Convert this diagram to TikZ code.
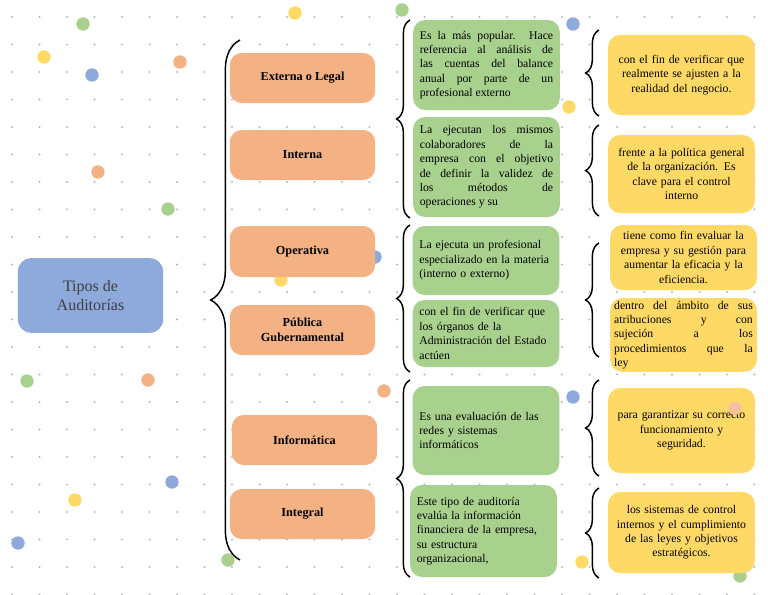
\documentclass[tikz,border=0pt]{standalone}
\usepackage{fontspec}
\setmainfont{Liberation Serif}
\usetikzlibrary{decorations.pathreplacing}
\definecolor{cblue}{HTML}{8EA9DB}
\definecolor{corange}{HTML}{F4B183}
\definecolor{cgreen}{HTML}{A9D18E}
\definecolor{cyellow}{HTML}{FFD966}
\definecolor{cdot}{HTML}{B8B8B8}
\hyphenpenalty=10000
\exhyphenpenalty=10000
\tikzset{
 box/.style={rounded corners=9pt,inner sep=2pt,font=\fontsize{8.8}{10.8}\selectfont},
 tipo/.style={box,fill=cblue,font=\fontsize{12}{14}\selectfont,text=black!75,align=center},
 orng/.style={box,fill=corange,font=\fontsize{9.2}{11.2}\selectfont\bfseries,align=center},
 grn/.style={box,fill=cgreen},
 ylw/.style={box,fill=cyellow},
 brc/.style={decorate,decoration={brace,amplitude=#1},line width=1.1pt}
}
\begin{document}
\begin{tikzpicture}[x=0.75pt,y=-0.75pt]
\useasboundingbox (0,0) rectangle (768,594);
\fill[white] (0,0) rectangle (768,594);
\foreach \i in {0,...,27}{\foreach \j in {0,...,21}{\fill[cdot] (12+27.5*\i,17+27.5*\j) circle (0.9pt);}}
\foreach \p/\c in {{(83,24)}/cgreen,{(295,13)}/cyellow,{(402,10)}/cgreen,{(573,24)}/cblue,{(44,57)}/cyellow,{(180,62)}/corange,{(92,75)}/cblue,{(569,107)}/cyellow,{(98,172)}/corange,{(168,209)}/cgreen,{(375,257)}/cblue,{(281,280)}/cyellow,{(27,381)}/cgreen,{(148,380)}/corange,{(384,391)}/corange,{(573,397)}/cblue,{(75,500)}/cyellow,{(172,482)}/cblue,{(18,543)}/cblue,{(228,560)}/cgreen,{(582,562)}/cyellow,{(740,576)}/cgreen}
 {\fill[\c] \p circle (5pt);}
\node[tipo,minimum width=109pt,minimum height=56pt,rounded corners=10pt] (t) at (90.5,295.5) {Tipos de\\Auditorías};
\foreach \n/\x/\y/\h/\t in {e/302.5/78/50/Externa o Legal,i/302.5/155/50/Interna,o/302.5/251.5/51/Operativa,p/302.5/330/50/{Pública\\Gubernamental},f/304.5/440/50/Informática,g/302.5/514/50/Integral}
 {\node[orng,minimum width=109pt,minimum height=\h*0.75pt] (\n) at (\x,\y) {\t};}
\foreach \n/\x/\y/\h/\al/\t in {
 g1/486.5/65/90/justify/{Es la más popular. Hace\linebreak referencia al análisis de\linebreak las cuentas del balance\linebreak anual por parte de un\linebreak profesional externo},
 g2/486.5/167/100/justify/{\parfillskip=0pt La ejecutan los mismos\linebreak colaboradores de la\linebreak empresa con el objetivo\linebreak de definir la validez de\linebreak los métodos de\linebreak operaciones y su},
 g3/486/260.5/69/left/{La ejecuta un profesional\\especializado en la materia\\(interno o externo)},
 g4/486/333.5/67/left/{con el fin de verificar que\\los órganos de la\\Administración del Estado\\actúen},
 g5/486/430.5/89/left/{Es una evaluación de las\\redes y sistemas\\informáticos},
 g6/483.5/531/92/left/{Este tipo de auditoría\\evalúa la información\\financiera de la empresa,\\su estructura\\organizacional,}}
 {\node[grn,align=\al,minimum width=110pt,text width=100pt,minimum height=\h*0.75pt] (\n) at (\x,\y) {\t};}
\foreach \n/\x/\y/\h/\al/\t in {
 y1/681.5/75/80/center/{con el fin de verificar que\\realmente se ajusten a la\\realidad del negocio.},
 y2/681.5/174/78/center/{frente a la política general\\de la organización. Es\\clave para el control\\interno},
 y3/683.5/257.5/65/center/{tiene como fin evaluar la\\empresa y su gestión para\\aumentar la eficacia y la\\eficiencia.},
 y4/683.5/335/70/justify/{\parfillskip=0pt dentro del ámbito de sus\linebreak atribuciones y con\linebreak sujeción a los\linebreak procedimientos que la ley},
 y5/681.5/430.5/85/center/{para garantizar su correcto\\funcionamiento y\\seguridad.},
 y6/681.5/532.5/81/center/{los sistemas de control\\internos y el cumplimiento\\de las leyes y objetivos\\estratégicos.}}
 {\node[ylw,align=\al,minimum width=110pt,text width=104pt,minimum height=\h*0.75pt] (\n) at (\x,\y) {\t};}
\fill[corange!80] (735,408) circle (5pt);
\coordinate (b0t) at (240,40); \coordinate (b0b) at (240,560);
\draw[brc=22pt] (b0b) -- (b0t);
\foreach \a/\b in {20/218,225/372,380/577}{\draw[brc=10pt] (410,\b) -- (410,\a);}
\foreach \a/\b in {30/116,125/216,243/357,380/476,488/578}{\draw[brc=10pt] (599,\b) -- (599,\a);}
\end{tikzpicture}
\end{document}
